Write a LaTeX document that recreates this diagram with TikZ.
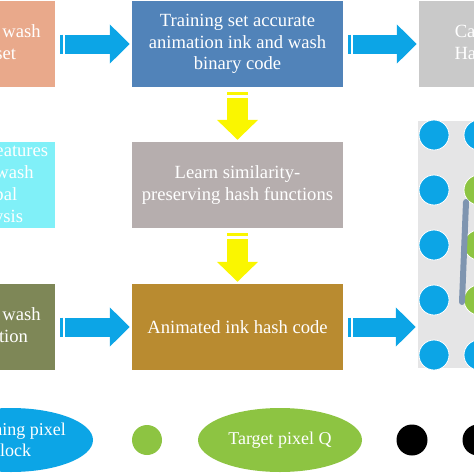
\documentclass[tikz,border=0pt]{standalone}
\usepackage{fontspec}
\setmainfont{Liberation Serif}
\usetikzlibrary{arrows.meta,shapes.geometric}
\definecolor{setpeach}{RGB}{233,169,139}
\definecolor{codeblue}{RGB}{81,131,185}
\definecolor{hamgrey}{RGB}{201,201,201}
\definecolor{featcyan}{RGB}{128,240,248}
\definecolor{learngrey}{RGB}{182,174,174}
\definecolor{genolive}{RGB}{126,135,87}
\definecolor{hashgold}{RGB}{185,139,48}
\definecolor{flowblue}{RGB}{12,165,230}
\definecolor{flowyellow}{RGB}{250,246,0}
\definecolor{pixgreen}{RGB}{141,196,66}
\definecolor{panelgrey}{RGB}{229,229,230}
\definecolor{linkgrey}{RGB}{127,149,176}

\begin{document}
\begin{tikzpicture}[x=1pt,y=-1pt,
    stepbox/.style={rectangle,inner sep=0pt,minimum width=211pt,minimum height=86pt,
      text=white,align=center,font=\fontsize{18.6}{21.7}\selectfont},
    hflow/.style={draw=flowblue,line width=19pt,-{Triangle[length=20pt,width=38pt]},
      shorten <=10pt,shorten >=2pt},
    vflow/.style={draw=flowyellow,line width=21pt,-{Triangle[length=20pt,width=40pt]},
      shorten <=11pt,shorten >=2pt},
    keyoval/.style={ellipse,inner sep=0pt,minimum width=164pt,minimum height=64pt,
      text=white,align=center,font=\fontsize{18}{21.5}\selectfont}]
  \useasboundingbox (0,0) rectangle (474,474);
  \clip (0,0) rectangle (474,474);

  % top row
  \node[stepbox,fill=setpeach] (setbox) at (-50.5,44) {Animation ink and wash\\training image set};
  \node[stepbox,fill=codeblue] (trainbox) at (237.5,44) {Training set accurate\\animation ink and wash\\binary code};
  \node[stepbox,fill=hamgrey] (hambox) at (524.5,44) {Calculate the pixel\\Hamming distance};

  % middle row
  \node[stepbox,fill=featcyan] (featbox) at (-50.5,185) {Extracting texture features\\based on ink and wash\\painting by global\\component analysis};
  \node[stepbox,fill=learngrey] (learnbox) at (237.5,185) {Learn similarity-\\preserving hash functions};

  % bottom row
  \node[stepbox,fill=genolive] (genbox) at (-50.5,327) {Animation ink and wash\\hash code generation};
  \node[stepbox,fill=hashgold] (hashbox) at (237.5,327) {Animated ink hash code};

  % pixel block panel
  \node[rectangle,fill=panelgrey,inner sep=0pt,minimum width=142pt,minimum height=247pt] (pixpanel) at (489,244.5) {};
  \foreach \y in {135,190,245,300,355}
    \filldraw[fill=flowblue,draw=white,line width=0.8pt] (434,\y) circle (15pt);
  \foreach \y/\c in {135/flowblue,190/pixgreen,245/pixgreen,300/pixgreen,355/flowblue}
    \filldraw[fill=\c,draw=white,line width=0.8pt] (479,\y) circle (15pt);
  \draw[linkgrey,line width=6pt,line cap=round] (466,202) -- (462,302);

  % arrows
  \draw[hflow] (setbox.east) -- (trainbox.west);
  \draw[hflow] (trainbox.east) -- (hambox.west);
  \draw[hflow] (genbox.east) -- (hashbox.west);
  \draw[hflow] (hashbox.east) -- (hashbox.east -| pixpanel.west);
  \foreach \src in {setbox,trainbox,genbox,hashbox}
    \draw[flowblue,line width=3pt] ([xshift=6pt,yshift=9.5pt]\src.east) -- ([xshift=6pt,yshift=-9.5pt]\src.east);
  \draw[vflow] (trainbox.south) -- (learnbox.north);
  \draw[vflow] (learnbox.south) -- (hashbox.north);
  \foreach \src in {trainbox,learnbox}
    \draw[flowyellow,line width=3pt] ([xshift=-10.5pt,yshift=-6.5pt]\src.south) -- ([xshift=10.5pt,yshift=-6.5pt]\src.south);

  % legend
  \node[keyoval,fill=flowblue] (blockkey) at (11,440) {Matching pixel\\block};
  \fill[pixgreen] (147,440) circle (15pt);
  \node[keyoval,fill=pixgreen] (targetkey) at (280,440) {Target pixel Q};
  \fill[black] (412,440) circle (15.5pt);
  \fill[black] (478,440) circle (15.5pt);
\end{tikzpicture}
\end{document}
